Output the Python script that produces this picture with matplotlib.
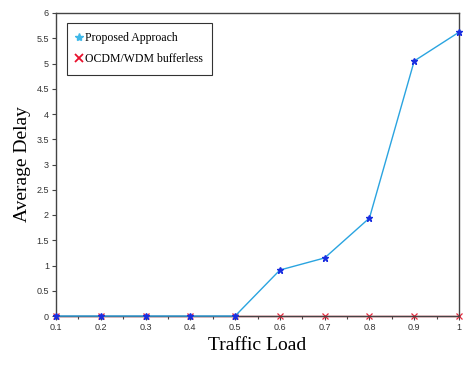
import matplotlib
matplotlib.use("Agg")
import matplotlib.pyplot as plt
from matplotlib.ticker import MultipleLocator

load = [0.1, 0.2, 0.3, 0.4, 0.5, 0.6, 0.7, 0.8, 0.9, 1.0]
proposed = [0, 0, 0, 0, 0, 0.91, 1.15, 1.94, 5.05, 5.62]
ocdm = [0, 0, 0, 0, 0, 0, 0, 0, 0, 0]
xticks = [0.1, 0.2, 0.3, 0.4, 0.5, 0.6, 0.7, 0.8, 0.9, 1]
xticklabels = ["0.1", "0.2", "0.3", "0.4", "0.5", "0.6", "0.7", "0.8", "0.9", "1"]
yticks = [0, 0.5, 1, 1.5, 2, 2.5, 3, 3.5, 4, 4.5, 5, 5.5, 6]
yticklabels = ["0", "0.5", "1", "1.5", "2", "2.5", "3", "3.5", "4", "4.5", "5", "5.5", "6"]

fig = plt.figure(figsize=(4.74, 3.68), dpi=100)
ax = fig.add_axes([56/474, 1 - 316/368, (459-56)/474, (316-13)/368])

ax.plot(load, ocdm, color="#e8283c", lw=1.0, marker="x", ms=4, mew=0.9,
        mec="#e8283c", zorder=2, clip_on=False)
ax.plot(load, proposed, color="#2aa4e0", lw=1.0, zorder=3, clip_on=False)
ax.plot(load, proposed, ls="none", marker="*", ms=5, color="#1a2ee0", zorder=4, clip_on=False)

# legend proxies
ax.plot([], [], ls="none", marker="*", ms=6, color="#40b8e8", label="Proposed Approach")
ax.plot([], [], ls="none", marker="x", ms=5.5, mew=1.3, color="#e8102c", label="OCDM/WDM bufferless")
h, l = ax.get_legend_handles_labels()
leg = ax.legend(h[-2:], l[-2:], loc="upper left", bbox_to_anchor=(11/403, 1 - 10/303),
                prop={"family": "Liberation Serif", "size": 8.5}, frameon=True,
                fancybox=False, edgecolor="black", handlelength=0.5, handletextpad=0.2,
                borderpad=0.8, labelspacing=0.75, borderaxespad=0)
leg.get_frame().set_linewidth(0.8)

ax.set_xlim(0.1, 1.0)
ax.set_ylim(0, 6)
ax.set_xticks(xticks)
ax.set_xticklabels(xticklabels)
ax.set_yticks(yticks)
ax.set_yticklabels(yticklabels)
ax.xaxis.set_minor_locator(MultipleLocator(0.05))
ax.tick_params(axis="both", which="major", labelsize=6.5, labelcolor="#333333",
               color="#444444", length=3, width=0.8, direction="out")
ax.tick_params(axis="x", which="minor", length=2, width=0.8, color="#444444", direction="out")
ax.tick_params(axis="x", pad=2)
ax.tick_params(axis="y", pad=2)
for tl in ax.get_xticklabels() + ax.get_yticklabels():
    tl.set_family("Liberation Sans")
for s in ax.spines.values():
    s.set_color("#444444")
    s.set_linewidth(1.0)

ax.set_xlabel("Traffic Load", family="Liberation Serif", fontsize=14, labelpad=4)
ax.set_ylabel("Average Delay", family="Liberation Serif", fontsize=14, labelpad=4)

fig.savefig("out.png", dpi=100)
